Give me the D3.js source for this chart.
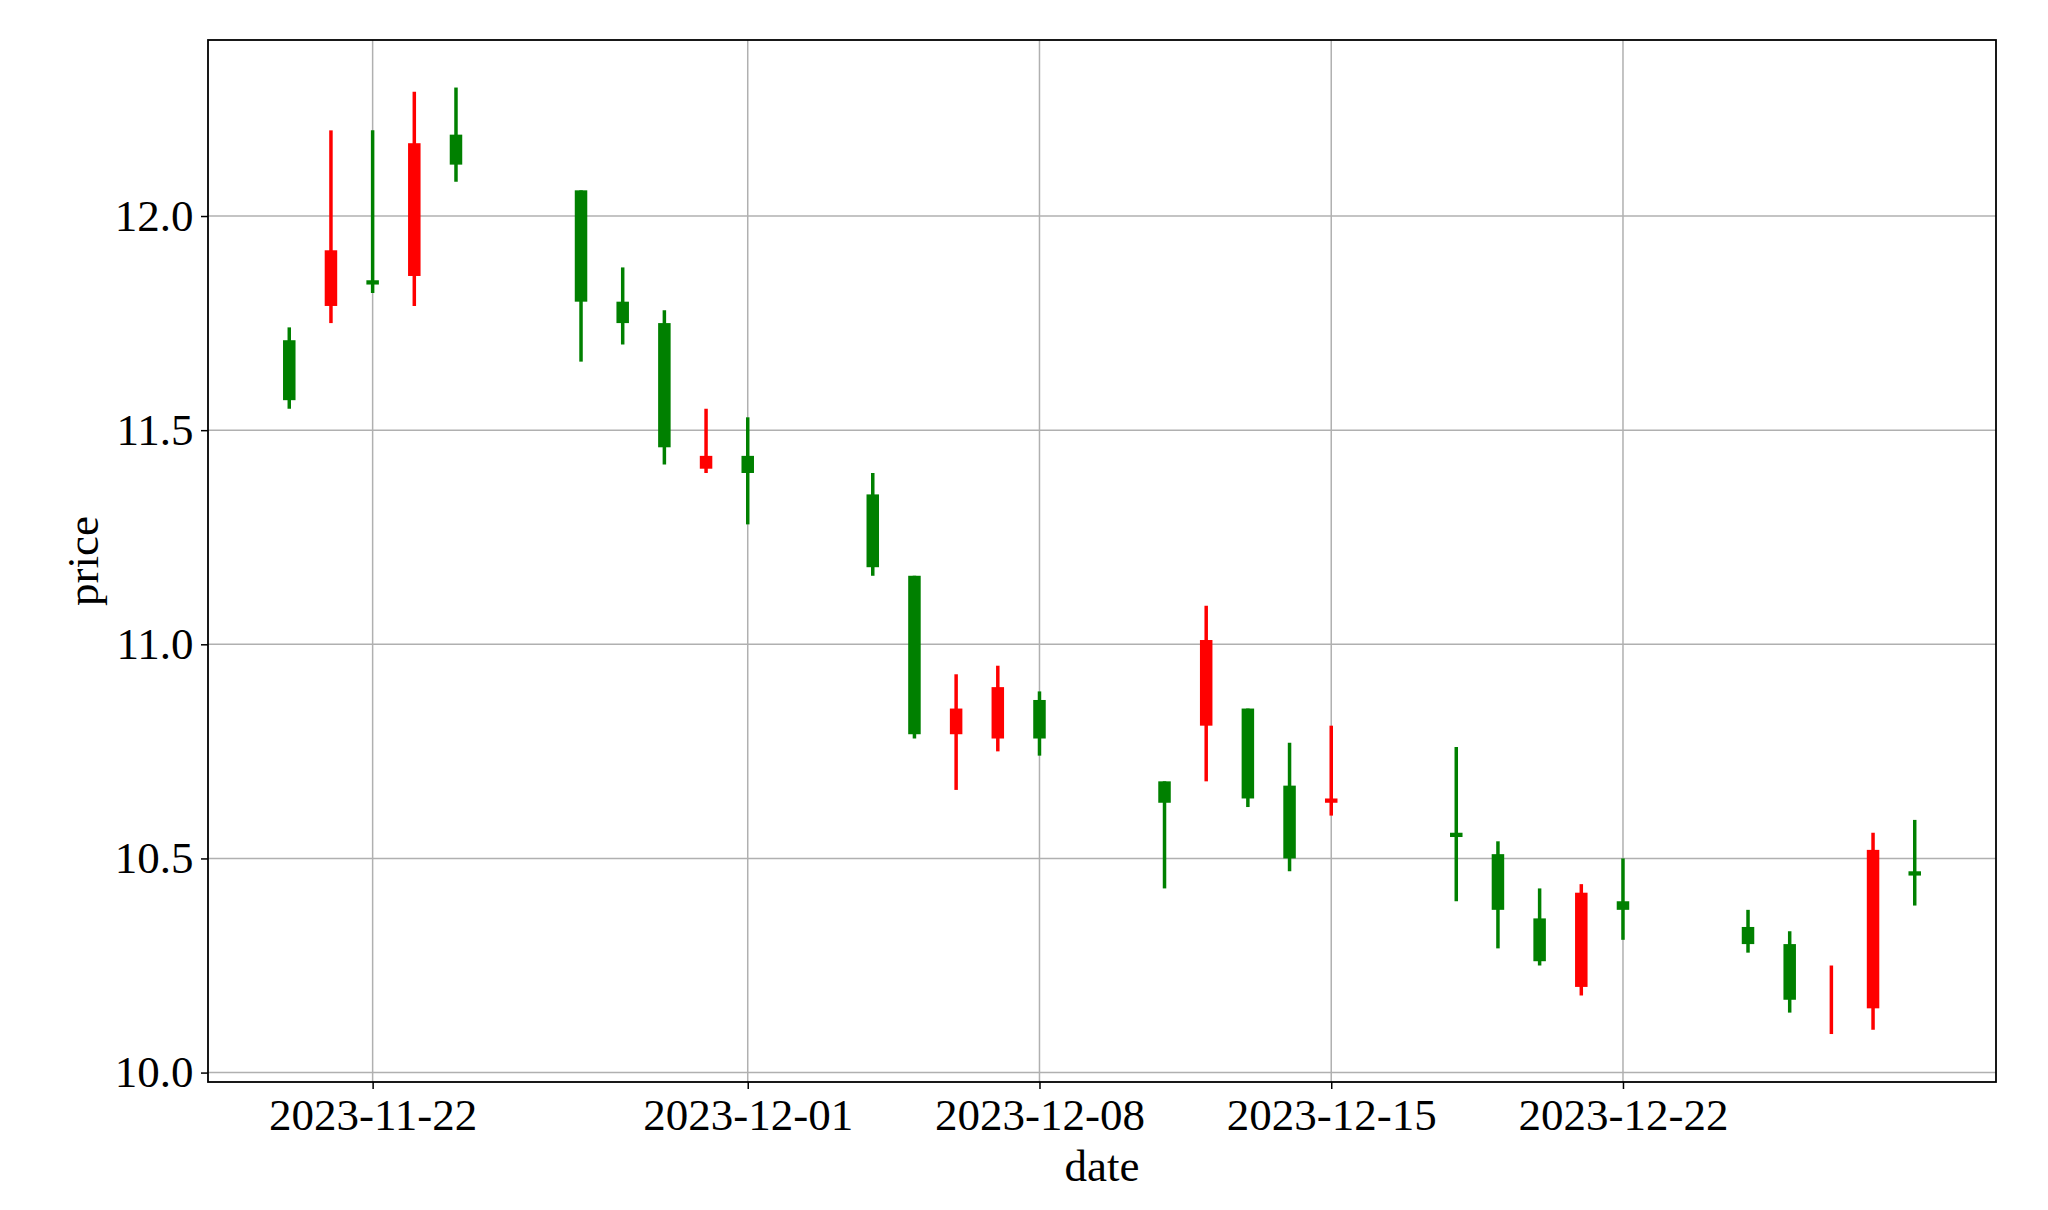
<!DOCTYPE html>
<html>
<head>
<meta charset="utf-8">
<script src="https://cdn.jsdelivr.net/npm/d3@7"></script>
<style>
  body { margin: 0; background: #fff; }
  text { font-family: "Liberation Serif", "DejaVu Serif", serif; }
</style>
</head>
<body>
<div id="chart"></div>
<script>
// Datos
const dates = ["2023-11-20","2023-11-21","2023-11-22","2023-11-23","2023-11-24",
  "2023-11-27","2023-11-28","2023-11-29","2023-11-30","2023-12-01",
  "2023-12-04","2023-12-05","2023-12-06","2023-12-07","2023-12-08",
  "2023-12-11","2023-12-12","2023-12-13","2023-12-14","2023-12-15",
  "2023-12-18","2023-12-19","2023-12-20","2023-12-21","2023-12-22",
  "2023-12-25","2023-12-26","2023-12-27","2023-12-28","2023-12-29"]
const open  = [11.57,11.92,11.84,12.17,12.12, 11.80,11.75,11.46,11.44,11.40,
  11.18,10.79,10.85,10.90,10.78, 10.63,11.01,10.64,10.50,10.64,
  10.55,10.38,10.26,10.42,10.38, 10.30,10.17,10.17,10.52,10.46]
const high  = [11.74,12.20,12.20,12.29,12.30, 12.06,11.88,11.78,11.55,11.53,
  11.40,11.16,10.93,10.95,10.89, 10.68,11.09,10.85,10.77,10.81,
  10.76,10.54,10.43,10.44,10.50, 10.38,10.33,10.25,10.56,10.59]
const low   = [11.55,11.75,11.82,11.79,12.08, 11.66,11.70,11.42,11.40,11.28,
  11.16,10.78,10.66,10.75,10.74, 10.43,10.68,10.62,10.47,10.60,
  10.40,10.29,10.25,10.18,10.31, 10.28,10.14,10.09,10.10,10.39]
const close = [11.71,11.79,11.85,11.86,12.19, 12.06,11.80,11.75,11.41,11.44,
  11.35,11.16,10.79,10.78,10.87, 10.68,10.81,10.85,10.67,10.63,
  10.56,10.51,10.36,10.20,10.40, 10.34,10.30,10.17,10.15,10.47]
const xTicks = ["2023-11-22","2023-12-01","2023-12-08","2023-12-15","2023-12-22"]
const yTicks = [10.0, 10.5, 11.0, 11.5, 12.0]

// Constantes:
const width = 2048
const height = 1210
const margins = { top: 40, bottom: 128, left: 208, right: 52 }
const innerW = width - margins.left - margins.right
const innerH = height - margins.top - margins.bottom
const day = 86400000

const parse = d3.timeParse("%Y-%m-%d")
const data = dates.map((d, i) => ({
  date: parse(d), open: open[i], high: high[i], low: low[i], close: close[i]
}))

const svg = d3.select("#chart").append("svg").attr("width", width).attr("height", height)
const g = svg.append("g").attr("transform", `translate(${margins.left},${margins.top})`)

// Escalas (margen del 5% como matplotlib)
const t0 = data[0].date.getTime(), t1 = data[data.length - 1].date.getTime()
const pad = (t1 - t0) * 0.05
const x = d3.scaleTime().domain([new Date(t0 - pad), new Date(t1 + pad)]).range([0, innerW])
const y = d3.scaleLinear().domain([9.978, 12.411]).range([innerH, 0])

// Rejilla
g.append("g").selectAll("line").data(xTicks).join("line")
  .attr("x1", d => x(parse(d))).attr("x2", d => x(parse(d)))
  .attr("y1", 0).attr("y2", innerH)
  .attr("stroke", "#b0b0b0").attr("stroke-width", 1.5)
g.append("g").selectAll("line").data(yTicks).join("line")
  .attr("x1", 0).attr("x2", innerW)
  .attr("y1", d => y(d)).attr("y2", d => y(d))
  .attr("stroke", "#b0b0b0").attr("stroke-width", 1.5)

// Velas
const colour = d => d.close > d.open ? "green" : "red"
const bodyW = 0.3 * (x(new Date(t0 + day)) - x(new Date(t0)))
g.append("g").selectAll("line").data(data).join("line")
  .attr("x1", d => x(d.date)).attr("x2", d => x(d.date))
  .attr("y1", d => y(d.high)).attr("y2", d => y(d.low))
  .attr("stroke", colour).attr("stroke-width", 3.5)
g.append("g").selectAll("rect").data(data).join("rect")
  .attr("x", d => x(d.date) - bodyW / 2)
  .attr("width", bodyW)
  .attr("y", d => y(Math.max(d.open, d.close)))
  .attr("height", d => y(Math.min(d.open, d.close)) - y(Math.max(d.open, d.close)))
  .attr("fill", colour)

// Ejes
const xAxis = d3.axisBottom(x).tickValues(xTicks.map(parse)).tickFormat(d3.timeFormat("%Y-%m-%d"))
  .tickSize(7).tickSizeOuter(0)
const yAxis = d3.axisLeft(y).tickValues(yTicks).tickFormat(d3.format(".1f")).tickSize(7).tickSizeOuter(0)
const gx = g.append("g").attr("transform", `translate(0,${innerH})`).call(xAxis)
const gy = g.append("g").call(yAxis)
for (const a of [gx, gy]) {
  a.select(".domain").remove()
  a.selectAll("line").attr("stroke", "#000").attr("stroke-width", 1.5)
  a.selectAll("text").attr("font-size", 45).attr("fill", "#000")
    .attr("font-family", "Liberation Serif")
}
gx.selectAll("text").attr("dy", "0.85em")
gy.selectAll("text").attr("dx", "-0.1em")

// Marco
g.append("rect").attr("width", innerW).attr("height", innerH)
  .attr("fill", "none").attr("stroke", "#000").attr("stroke-width", 1.8)

// Etiquetas
svg.append("text").attr("x", margins.left + innerW / 2).attr("y", 1181)
  .attr("text-anchor", "middle").attr("font-size", 45).text("date")
svg.append("text").attr("transform", `translate(98,${margins.top + innerH / 2}) rotate(-90)`)
  .attr("text-anchor", "middle").attr("font-size", 45).text("price")
</script>
</body>
</html>
